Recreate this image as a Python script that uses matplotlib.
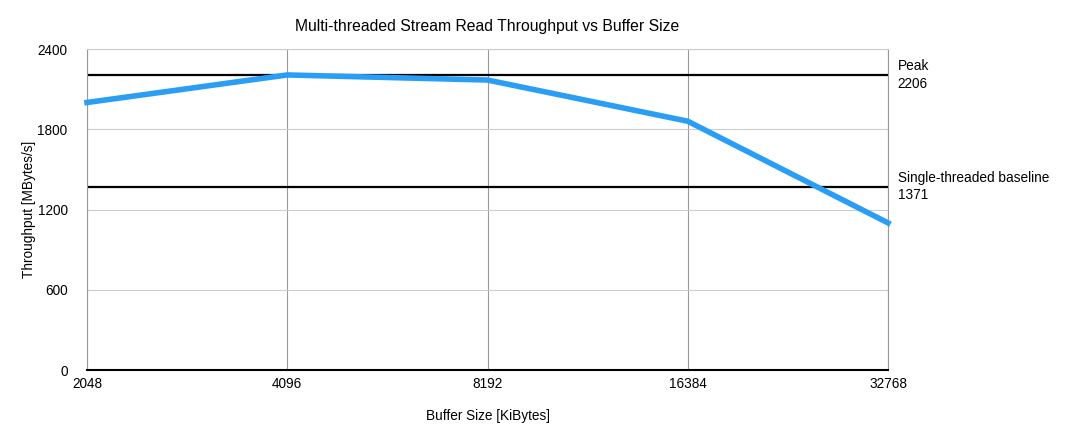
import matplotlib
matplotlib.use("Agg")
import matplotlib.pyplot as plt

plt.rcParams['font.family'] = ['Liberation Sans', 'DejaVu Sans']

buffer_sizes = [2048, 4096, 8192, 16384, 32768]
throughput = [2000, 2206, 2168, 1860, 1100]
peak_value = 2206
baseline_value = 1371
y_ticks = [0, 600, 1200, 1800, 2400]

fig = plt.figure(figsize=(10.79, 4.33), dpi=100)
ax = fig.add_axes([87/1079, 1 - 370/433, (888-87)/1079, (370-49)/433])

ax.set_xscale('log', base=2)
ax.set_xlim(buffer_sizes[0], buffer_sizes[-1])
ax.set_ylim(0, 2400)
ax.set_xticks(buffer_sizes)
ax.set_xticklabels([str(v) for v in buffer_sizes])
ax.minorticks_off()
ax.set_yticks(y_ticks)
ax.set_yticklabels([str(v) for v in y_ticks])

ax.grid(axis='y', color='#cccccc', linewidth=0.8)
ax.grid(axis='x', color='#999999', linewidth=0.8)
ax.set_axisbelow(True)

for s in ['left', 'right', 'top']:
    ax.spines[s].set_color('#999999')
    ax.spines[s].set_linewidth(0.8)
ax.spines['top'].set_color('#cccccc')
ax.spines['bottom'].set_color('black')
ax.spines['bottom'].set_linewidth(1.5)

ax.tick_params(axis='both', length=0, labelsize=9.8)
ax.tick_params(axis='y', pad=14)
ax.tick_params(axis='x', pad=5)

ax.axhline(peak_value, color='black', linewidth=1.6, zorder=2)
ax.axhline(baseline_value, color='black', linewidth=1.6, zorder=2)

ax.plot(buffer_sizes, throughput, color='#2a9df4', linewidth=4.0,
        solid_joinstyle='miter', zorder=3, clip_on=False)

ax.text(1.012, peak_value, f"Peak\n{peak_value}", transform=ax.get_yaxis_transform(),
        fontsize=9.8, va='center', ha='left', linespacing=1.3)
ax.text(1.012, baseline_value, f"Single-threaded baseline\n{baseline_value}",
        transform=ax.get_yaxis_transform(),
        fontsize=9.8, va='center', ha='left', linespacing=1.3)

ax.set_title("Multi-threaded Stream Read Throughput vs Buffer Size", fontsize=11.3, pad=13)
ax.set_xlabel("Buffer Size [KiBytes]", fontsize=9.8, labelpad=13)
ax.set_ylabel("Throughput [MBytes/s]", fontsize=9.8, labelpad=1)

fig.savefig("out.png", dpi=100)
